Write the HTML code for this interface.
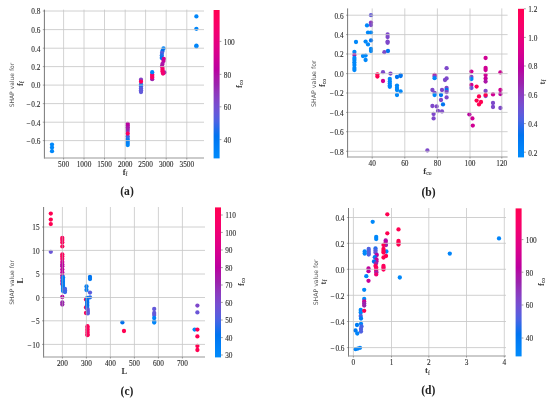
<!DOCTYPE html>
<html><head><meta charset="utf-8"><title>SHAP dependence plots</title>
<style>html,body{margin:0;padding:0;background:#fff;}svg{display:block;}</style></head>
<body>
<svg width="550" height="402" viewBox="0 0 550 402">
<defs><linearGradient id="rb" x1="0" y1="0" x2="0" y2="1"><stop offset="0%" stop-color="#ff0051"/><stop offset="5%" stop-color="#fe005c"/><stop offset="10%" stop-color="#f90067"/><stop offset="15%" stop-color="#f20072"/><stop offset="20%" stop-color="#e9007c"/><stop offset="25%" stop-color="#e00086"/><stop offset="30%" stop-color="#d5008f"/><stop offset="35%" stop-color="#c80098"/><stop offset="40%" stop-color="#bb00a0"/><stop offset="45%" stop-color="#ab15a7"/><stop offset="50%" stop-color="#9b23ad"/><stop offset="55%" stop-color="#9135ba"/><stop offset="60%" stop-color="#8443c6"/><stop offset="65%" stop-color="#754fd1"/><stop offset="70%" stop-color="#6359da"/><stop offset="75%" stop-color="#4b63e3"/><stop offset="80%" stop-color="#236cea"/><stop offset="85%" stop-color="#0074f0"/><stop offset="90%" stop-color="#007cf5"/><stop offset="95%" stop-color="#0084f9"/><stop offset="100%" stop-color="#008bfb"/></linearGradient></defs>
<rect width="550" height="402" fill="#fff"/>
<circle cx="52.0" cy="144.6" r="2.15" fill="#0088fa"/>
<circle cx="52.0" cy="147.6" r="2.15" fill="#0088fa"/>
<circle cx="52.0" cy="151.2" r="2.15" fill="#0088fa"/>
<circle cx="127.7" cy="145.0" r="2.15" fill="#0088fa"/>
<circle cx="127.7" cy="143.0" r="2.15" fill="#0085f9"/>
<circle cx="127.7" cy="141.0" r="2.15" fill="#007ff7"/>
<circle cx="127.7" cy="139.0" r="2.15" fill="#0079f3"/>
<circle cx="127.7" cy="136.5" r="2.15" fill="#3769e8"/>
<circle cx="127.7" cy="131.0" r="2.15" fill="#754fd1"/>
<circle cx="127.7" cy="129.0" r="2.15" fill="#9b23ad"/>
<circle cx="127.7" cy="127.2" r="2.15" fill="#a21eaa"/>
<circle cx="127.7" cy="125.5" r="2.15" fill="#ab15a7"/>
<circle cx="127.7" cy="123.8" r="2.15" fill="#bb00a0"/>
<circle cx="127.7" cy="133.5" r="2.15" fill="#fb0063"/>
<circle cx="141.0" cy="92.0" r="2.15" fill="#6359da"/>
<circle cx="141.0" cy="90.2" r="2.15" fill="#6359da"/>
<circle cx="141.0" cy="88.4" r="2.15" fill="#5a5dde"/>
<circle cx="141.0" cy="86.5" r="2.15" fill="#5a5dde"/>
<circle cx="141.0" cy="84.5" r="2.15" fill="#007cf5"/>
<circle cx="141.0" cy="79.7" r="2.15" fill="#8443c6"/>
<circle cx="141.0" cy="81.7" r="2.15" fill="#fe005c"/>
<circle cx="152.2" cy="79.2" r="2.15" fill="#9b23ad"/>
<circle cx="152.2" cy="77.6" r="2.15" fill="#f20072"/>
<circle cx="152.2" cy="76.0" r="2.15" fill="#f90067"/>
<circle cx="152.2" cy="74.4" r="2.15" fill="#f90067"/>
<circle cx="152.2" cy="72.2" r="2.15" fill="#0084f9"/>
<circle cx="163.5" cy="48.5" r="2.15" fill="#0084f9"/>
<circle cx="162.5" cy="51.0" r="2.15" fill="#006fed"/>
<circle cx="162.0" cy="53.0" r="2.15" fill="#555fe0"/>
<circle cx="161.8" cy="55.5" r="2.15" fill="#236cea"/>
<circle cx="161.8" cy="58.0" r="2.15" fill="#0073ef"/>
<circle cx="163.8" cy="58.8" r="2.15" fill="#d5008f"/>
<circle cx="163.5" cy="61.0" r="2.15" fill="#c80098"/>
<circle cx="162.5" cy="64.0" r="2.15" fill="#ab15a7"/>
<circle cx="162.0" cy="66.2" r="2.15" fill="#ab15a7"/>
<circle cx="164.4" cy="72.5" r="2.15" fill="#9b23ad"/>
<circle cx="162.5" cy="68.0" r="2.15" fill="#f20072"/>
<circle cx="162.5" cy="69.8" r="2.15" fill="#f90067"/>
<circle cx="162.5" cy="71.6" r="2.15" fill="#f90067"/>
<circle cx="163.0" cy="73.6" r="2.15" fill="#f20072"/>
<circle cx="196.4" cy="16.4" r="2.15" fill="#0086fa"/>
<circle cx="196.4" cy="28.8" r="2.15" fill="#0086fa"/>
<circle cx="196.4" cy="45.6" r="2.15" fill="#0086fa"/>
<circle cx="196.4" cy="46.4" r="2.15" fill="#0086fa"/>
<line x1="63.6" y1="9.6" x2="63.6" y2="158" stroke="#b4b4b4" stroke-width="0.7" stroke-opacity="0.85"/>
<line x1="84" y1="9.6" x2="84" y2="158" stroke="#b4b4b4" stroke-width="0.7" stroke-opacity="0.85"/>
<line x1="104.5" y1="9.6" x2="104.5" y2="158" stroke="#b4b4b4" stroke-width="0.7" stroke-opacity="0.85"/>
<line x1="125.2" y1="9.6" x2="125.2" y2="158" stroke="#b4b4b4" stroke-width="0.7" stroke-opacity="0.85"/>
<line x1="145.6" y1="9.6" x2="145.6" y2="158" stroke="#b4b4b4" stroke-width="0.7" stroke-opacity="0.85"/>
<line x1="166.2" y1="9.6" x2="166.2" y2="158" stroke="#b4b4b4" stroke-width="0.7" stroke-opacity="0.85"/>
<line x1="186.8" y1="9.6" x2="186.8" y2="158" stroke="#b4b4b4" stroke-width="0.7" stroke-opacity="0.85"/>
<line x1="44.4" y1="11" x2="204" y2="11" stroke="#c8c8c8" stroke-width="1.0" stroke-opacity="0.85"/>
<line x1="44.4" y1="29.6" x2="204" y2="29.6" stroke="#c8c8c8" stroke-width="1.0" stroke-opacity="0.85"/>
<line x1="44.4" y1="48.2" x2="204" y2="48.2" stroke="#c8c8c8" stroke-width="1.0" stroke-opacity="0.85"/>
<line x1="44.4" y1="66.6" x2="204" y2="66.6" stroke="#c8c8c8" stroke-width="1.0" stroke-opacity="0.85"/>
<line x1="44.4" y1="85.1" x2="204" y2="85.1" stroke="#c8c8c8" stroke-width="1.0" stroke-opacity="0.85"/>
<line x1="44.4" y1="103.6" x2="204" y2="103.6" stroke="#c8c8c8" stroke-width="1.0" stroke-opacity="0.85"/>
<line x1="44.4" y1="122.2" x2="204" y2="122.2" stroke="#c8c8c8" stroke-width="1.0" stroke-opacity="0.85"/>
<line x1="44.4" y1="140.6" x2="204" y2="140.6" stroke="#c8c8c8" stroke-width="1.0" stroke-opacity="0.85"/>
<line x1="44.4" y1="9.6" x2="44.4" y2="158.5" stroke="#555" stroke-width="0.8"/>
<line x1="44.0" y1="158" x2="204" y2="158" stroke="#979797" stroke-width="1.0"/>
<line x1="63.6" y1="158" x2="63.6" y2="159.6" stroke="#555" stroke-width="0.5"/>
<text x="63.6" y="167.2" font-size="7.3" text-anchor="middle" font-family='"Liberation Serif", "DejaVu Serif", serif' fill="#2c2c2c" stroke="#2c2c2c" stroke-width="0.1">500</text>
<line x1="84" y1="158" x2="84" y2="159.6" stroke="#555" stroke-width="0.5"/>
<text x="84" y="167.2" font-size="7.3" text-anchor="middle" font-family='"Liberation Serif", "DejaVu Serif", serif' fill="#2c2c2c" stroke="#2c2c2c" stroke-width="0.1">1000</text>
<line x1="104.5" y1="158" x2="104.5" y2="159.6" stroke="#555" stroke-width="0.5"/>
<text x="104.5" y="167.2" font-size="7.3" text-anchor="middle" font-family='"Liberation Serif", "DejaVu Serif", serif' fill="#2c2c2c" stroke="#2c2c2c" stroke-width="0.1">1500</text>
<line x1="125.2" y1="158" x2="125.2" y2="159.6" stroke="#555" stroke-width="0.5"/>
<text x="125.2" y="167.2" font-size="7.3" text-anchor="middle" font-family='"Liberation Serif", "DejaVu Serif", serif' fill="#2c2c2c" stroke="#2c2c2c" stroke-width="0.1">2000</text>
<line x1="145.6" y1="158" x2="145.6" y2="159.6" stroke="#555" stroke-width="0.5"/>
<text x="145.6" y="167.2" font-size="7.3" text-anchor="middle" font-family='"Liberation Serif", "DejaVu Serif", serif' fill="#2c2c2c" stroke="#2c2c2c" stroke-width="0.1">2500</text>
<line x1="166.2" y1="158" x2="166.2" y2="159.6" stroke="#555" stroke-width="0.5"/>
<text x="166.2" y="167.2" font-size="7.3" text-anchor="middle" font-family='"Liberation Serif", "DejaVu Serif", serif' fill="#2c2c2c" stroke="#2c2c2c" stroke-width="0.1">3000</text>
<line x1="186.8" y1="158" x2="186.8" y2="159.6" stroke="#555" stroke-width="0.5"/>
<text x="186.8" y="167.2" font-size="7.3" text-anchor="middle" font-family='"Liberation Serif", "DejaVu Serif", serif' fill="#2c2c2c" stroke="#2c2c2c" stroke-width="0.1">3500</text>
<line x1="42.8" y1="11" x2="44.4" y2="11" stroke="#555" stroke-width="0.5"/>
<text x="40.4" y="14.3" font-size="7.3" text-anchor="end" font-family='"Liberation Serif", "DejaVu Serif", serif' fill="#2c2c2c" stroke="#2c2c2c" stroke-width="0.1">0.8</text>
<line x1="42.8" y1="29.6" x2="44.4" y2="29.6" stroke="#555" stroke-width="0.5"/>
<text x="40.4" y="32.9" font-size="7.3" text-anchor="end" font-family='"Liberation Serif", "DejaVu Serif", serif' fill="#2c2c2c" stroke="#2c2c2c" stroke-width="0.1">0.6</text>
<line x1="42.8" y1="48.2" x2="44.4" y2="48.2" stroke="#555" stroke-width="0.5"/>
<text x="40.4" y="51.5" font-size="7.3" text-anchor="end" font-family='"Liberation Serif", "DejaVu Serif", serif' fill="#2c2c2c" stroke="#2c2c2c" stroke-width="0.1">0.4</text>
<line x1="42.8" y1="66.6" x2="44.4" y2="66.6" stroke="#555" stroke-width="0.5"/>
<text x="40.4" y="69.89999999999999" font-size="7.3" text-anchor="end" font-family='"Liberation Serif", "DejaVu Serif", serif' fill="#2c2c2c" stroke="#2c2c2c" stroke-width="0.1">0.2</text>
<line x1="42.8" y1="85.1" x2="44.4" y2="85.1" stroke="#555" stroke-width="0.5"/>
<text x="40.4" y="88.39999999999999" font-size="7.3" text-anchor="end" font-family='"Liberation Serif", "DejaVu Serif", serif' fill="#2c2c2c" stroke="#2c2c2c" stroke-width="0.1">0.0</text>
<line x1="42.8" y1="103.6" x2="44.4" y2="103.6" stroke="#555" stroke-width="0.5"/>
<text x="40.4" y="106.89999999999999" font-size="7.3" text-anchor="end" font-family='"Liberation Serif", "DejaVu Serif", serif' fill="#2c2c2c" stroke="#2c2c2c" stroke-width="0.1"><tspan letter-spacing="0.9">−</tspan>0.2</text>
<line x1="42.8" y1="122.2" x2="44.4" y2="122.2" stroke="#555" stroke-width="0.5"/>
<text x="40.4" y="125.5" font-size="7.3" text-anchor="end" font-family='"Liberation Serif", "DejaVu Serif", serif' fill="#2c2c2c" stroke="#2c2c2c" stroke-width="0.1"><tspan letter-spacing="0.9">−</tspan>0.4</text>
<line x1="42.8" y1="140.6" x2="44.4" y2="140.6" stroke="#555" stroke-width="0.5"/>
<text x="40.4" y="143.9" font-size="7.3" text-anchor="end" font-family='"Liberation Serif", "DejaVu Serif", serif' fill="#2c2c2c" stroke="#2c2c2c" stroke-width="0.1"><tspan letter-spacing="0.9">−</tspan>0.6</text>
<text x="125" y="174.5" font-size="8.6" text-anchor="middle" font-family='"Liberation Serif", "DejaVu Serif", serif' fill="#333"><tspan font-weight="bold">f</tspan><tspan font-size="5.6" dy="1.1" stroke="#333" stroke-width="0.12">f</tspan></text>
<text transform="translate(14.4,85.1) rotate(-90)" font-size="6.0" text-anchor="middle" font-family='"DejaVu Sans", "Liberation Sans", sans-serif' fill="#555">SHAP value for</text>
<text transform="translate(22.6,83.6) rotate(-90)" font-size="8.6" text-anchor="middle" font-family='"Liberation Serif", "DejaVu Serif", serif' fill="#333"><tspan font-weight="bold">f</tspan><tspan font-size="5.6" dy="1.1" stroke="#333" stroke-width="0.12">f</tspan></text>
<rect x="213.6" y="10.0" width="6.0" height="148.4" fill="url(#rb)"/>
<line x1="219.6" y1="41.4" x2="221.4" y2="41.4" stroke="#444" stroke-width="0.5"/>
<text x="223.79999999999998" y="44.699999999999996" font-size="7.3" font-family='"Liberation Serif", "DejaVu Serif", serif' fill="#2c2c2c" stroke="#2c2c2c" stroke-width="0.1">100</text>
<line x1="219.6" y1="74.4" x2="221.4" y2="74.4" stroke="#444" stroke-width="0.5"/>
<text x="223.79999999999998" y="77.7" font-size="7.3" font-family='"Liberation Serif", "DejaVu Serif", serif' fill="#2c2c2c" stroke="#2c2c2c" stroke-width="0.1">80</text>
<line x1="219.6" y1="106.8" x2="221.4" y2="106.8" stroke="#444" stroke-width="0.5"/>
<text x="223.79999999999998" y="110.1" font-size="7.3" font-family='"Liberation Serif", "DejaVu Serif", serif' fill="#2c2c2c" stroke="#2c2c2c" stroke-width="0.1">60</text>
<line x1="219.6" y1="139.6" x2="221.4" y2="139.6" stroke="#444" stroke-width="0.5"/>
<text x="223.79999999999998" y="142.9" font-size="7.3" font-family='"Liberation Serif", "DejaVu Serif", serif' fill="#2c2c2c" stroke="#2c2c2c" stroke-width="0.1">40</text>
<text transform="translate(242,84) rotate(-90)" font-size="8.6" text-anchor="middle" font-family='"Liberation Serif", "DejaVu Serif", serif' fill="#333"><tspan font-weight="bold">f</tspan><tspan font-size="5.6" dy="1.1" stroke="#333" stroke-width="0.12">co</tspan></text>
<text x="127" y="195.4" font-size="11.6" font-weight="bold" text-anchor="middle" font-family='"Liberation Serif", "DejaVu Serif", serif' fill="#222">(a)</text>
<circle cx="371.0" cy="15.2" r="2.15" fill="#6359da"/>
<circle cx="371.0" cy="22.6" r="2.15" fill="#8c3bbf"/>
<circle cx="371.0" cy="25.0" r="2.15" fill="#7e48ca"/>
<circle cx="367.0" cy="25.4" r="2.15" fill="#0088fa"/>
<circle cx="368.0" cy="32.6" r="2.15" fill="#0088fa"/>
<circle cx="371.0" cy="32.6" r="2.15" fill="#0088fa"/>
<circle cx="356.0" cy="42.0" r="2.15" fill="#0088fa"/>
<circle cx="365.6" cy="41.6" r="2.15" fill="#0088fa"/>
<circle cx="371.0" cy="40.4" r="2.15" fill="#0074f0"/>
<circle cx="368.0" cy="44.4" r="2.15" fill="#0088fa"/>
<circle cx="371.0" cy="49.0" r="2.15" fill="#0088fa"/>
<circle cx="371.0" cy="51.0" r="2.15" fill="#0088fa"/>
<circle cx="354.4" cy="52.0" r="2.15" fill="#0088fa"/>
<circle cx="354.4" cy="55.0" r="2.15" fill="#9b23ad"/>
<circle cx="363.0" cy="56.0" r="2.15" fill="#0088fa"/>
<circle cx="365.6" cy="55.6" r="2.15" fill="#0088fa"/>
<circle cx="365.6" cy="60.0" r="2.15" fill="#0088fa"/>
<circle cx="354.4" cy="58.0" r="2.15" fill="#0088fa"/>
<circle cx="354.4" cy="60.0" r="2.15" fill="#0088fa"/>
<circle cx="354.4" cy="62.4" r="2.15" fill="#0088fa"/>
<circle cx="354.4" cy="65.0" r="2.15" fill="#0088fa"/>
<circle cx="354.4" cy="68.0" r="2.15" fill="#0088fa"/>
<circle cx="354.4" cy="70.0" r="2.15" fill="#0088fa"/>
<circle cx="387.6" cy="34.4" r="2.15" fill="#7e48ca"/>
<circle cx="387.6" cy="37.0" r="2.15" fill="#7e48ca"/>
<circle cx="387.6" cy="41.6" r="2.15" fill="#7e48ca"/>
<circle cx="387.6" cy="42.8" r="2.15" fill="#7e48ca"/>
<circle cx="384.4" cy="52.2" r="2.15" fill="#7e48ca"/>
<circle cx="388.0" cy="51.0" r="2.15" fill="#0074f0"/>
<circle cx="377.4" cy="74.4" r="2.15" fill="#ff0051"/>
<circle cx="377.4" cy="76.6" r="2.15" fill="#ff0051"/>
<circle cx="383.0" cy="72.2" r="2.15" fill="#7e48ca"/>
<circle cx="390.5" cy="73.6" r="2.15" fill="#7e48ca"/>
<circle cx="383.0" cy="81.0" r="2.15" fill="#d00093"/>
<circle cx="389.8" cy="79.0" r="2.15" fill="#0088fa"/>
<circle cx="389.8" cy="81.4" r="2.15" fill="#0088fa"/>
<circle cx="389.8" cy="83.6" r="2.15" fill="#0088fa"/>
<circle cx="389.8" cy="85.6" r="2.15" fill="#0088fa"/>
<circle cx="389.8" cy="86.8" r="2.15" fill="#0088fa"/>
<circle cx="397.0" cy="77.0" r="2.15" fill="#0074f0"/>
<circle cx="400.6" cy="75.0" r="2.15" fill="#0074f0"/>
<circle cx="400.6" cy="76.0" r="2.15" fill="#0074f0"/>
<circle cx="397.0" cy="85.6" r="2.15" fill="#0088fa"/>
<circle cx="397.0" cy="88.0" r="2.15" fill="#0088fa"/>
<circle cx="397.0" cy="90.0" r="2.15" fill="#0088fa"/>
<circle cx="400.6" cy="91.4" r="2.15" fill="#0088fa"/>
<circle cx="397.0" cy="95.0" r="2.15" fill="#0088fa"/>
<circle cx="434.6" cy="75.0" r="2.15" fill="#d00093"/>
<circle cx="434.6" cy="76.5" r="2.15" fill="#7e48ca"/>
<circle cx="434.6" cy="78.2" r="2.15" fill="#0088fa"/>
<circle cx="446.6" cy="68.2" r="2.15" fill="#7e48ca"/>
<circle cx="446.6" cy="78.4" r="2.15" fill="#7e48ca"/>
<circle cx="445.0" cy="80.0" r="2.15" fill="#7e48ca"/>
<circle cx="432.4" cy="90.0" r="2.15" fill="#7e48ca"/>
<circle cx="434.6" cy="93.0" r="2.15" fill="#7e48ca"/>
<circle cx="434.6" cy="95.0" r="2.15" fill="#0088fa"/>
<circle cx="442.0" cy="90.0" r="2.15" fill="#7e48ca"/>
<circle cx="446.6" cy="88.0" r="2.15" fill="#7e48ca"/>
<circle cx="446.6" cy="90.0" r="2.15" fill="#0074f0"/>
<circle cx="446.6" cy="92.0" r="2.15" fill="#7e48ca"/>
<circle cx="441.0" cy="95.0" r="2.15" fill="#0074f0"/>
<circle cx="446.6" cy="97.4" r="2.15" fill="#7e48ca"/>
<circle cx="441.0" cy="100.0" r="2.15" fill="#7e48ca"/>
<circle cx="443.0" cy="104.4" r="2.15" fill="#0074f0"/>
<circle cx="432.4" cy="106.0" r="2.15" fill="#7e48ca"/>
<circle cx="436.6" cy="106.4" r="2.15" fill="#7e48ca"/>
<circle cx="438.0" cy="111.0" r="2.15" fill="#7e48ca"/>
<circle cx="442.0" cy="111.4" r="2.15" fill="#7e48ca"/>
<circle cx="433.6" cy="114.0" r="2.15" fill="#7e48ca"/>
<circle cx="433.6" cy="118.4" r="2.15" fill="#7e48ca"/>
<circle cx="427.4" cy="150.4" r="2.15" fill="#7e48ca"/>
<circle cx="471.4" cy="71.6" r="2.15" fill="#d00093"/>
<circle cx="471.4" cy="77.0" r="2.15" fill="#7e48ca"/>
<circle cx="471.4" cy="79.0" r="2.15" fill="#0088fa"/>
<circle cx="471.4" cy="85.0" r="2.15" fill="#d00093"/>
<circle cx="471.4" cy="88.0" r="2.15" fill="#6359da"/>
<circle cx="476.6" cy="86.6" r="2.15" fill="#ff0051"/>
<circle cx="485.6" cy="58.0" r="2.15" fill="#d00093"/>
<circle cx="485.6" cy="68.0" r="2.15" fill="#d00093"/>
<circle cx="485.6" cy="70.0" r="2.15" fill="#d00093"/>
<circle cx="485.6" cy="75.0" r="2.15" fill="#d00093"/>
<circle cx="485.6" cy="78.4" r="2.15" fill="#c3009b"/>
<circle cx="485.6" cy="81.6" r="2.15" fill="#ab15a7"/>
<circle cx="485.6" cy="91.0" r="2.15" fill="#7e48ca"/>
<circle cx="485.6" cy="96.0" r="2.15" fill="#7e48ca"/>
<circle cx="485.6" cy="95.0" r="2.15" fill="#ff0051"/>
<circle cx="479.0" cy="96.4" r="2.15" fill="#ff0051"/>
<circle cx="476.6" cy="100.6" r="2.15" fill="#ff0051"/>
<circle cx="481.0" cy="102.0" r="2.15" fill="#ff0051"/>
<circle cx="479.0" cy="104.4" r="2.15" fill="#ff0051"/>
<circle cx="469.4" cy="114.4" r="2.15" fill="#bb00a0"/>
<circle cx="472.4" cy="118.4" r="2.15" fill="#d00093"/>
<circle cx="472.8" cy="125.6" r="2.15" fill="#d00093"/>
<circle cx="500.4" cy="72.4" r="2.15" fill="#d00093"/>
<circle cx="500.4" cy="90.0" r="2.15" fill="#d00093"/>
<circle cx="500.4" cy="94.0" r="2.15" fill="#bb00a0"/>
<circle cx="500.4" cy="108.0" r="2.15" fill="#7e48ca"/>
<circle cx="493.0" cy="94.4" r="2.15" fill="#d00093"/>
<circle cx="493.0" cy="103.0" r="2.15" fill="#7e48ca"/>
<circle cx="493.0" cy="107.0" r="2.15" fill="#7e48ca"/>
<line x1="372.2" y1="8.4" x2="372.2" y2="157" stroke="#b4b4b4" stroke-width="0.7" stroke-opacity="0.85"/>
<line x1="404.8" y1="8.4" x2="404.8" y2="157" stroke="#b4b4b4" stroke-width="0.7" stroke-opacity="0.85"/>
<line x1="437.4" y1="8.4" x2="437.4" y2="157" stroke="#b4b4b4" stroke-width="0.7" stroke-opacity="0.85"/>
<line x1="470" y1="8.4" x2="470" y2="157" stroke="#b4b4b4" stroke-width="0.7" stroke-opacity="0.85"/>
<line x1="501.8" y1="8.4" x2="501.8" y2="157" stroke="#b4b4b4" stroke-width="0.7" stroke-opacity="0.85"/>
<line x1="347.6" y1="15.2" x2="507.6" y2="15.2" stroke="#c8c8c8" stroke-width="1.0" stroke-opacity="0.85"/>
<line x1="347.6" y1="34.6" x2="507.6" y2="34.6" stroke="#c8c8c8" stroke-width="1.0" stroke-opacity="0.85"/>
<line x1="347.6" y1="54" x2="507.6" y2="54" stroke="#c8c8c8" stroke-width="1.0" stroke-opacity="0.85"/>
<line x1="347.6" y1="73.6" x2="507.6" y2="73.6" stroke="#c8c8c8" stroke-width="1.0" stroke-opacity="0.85"/>
<line x1="347.6" y1="93" x2="507.6" y2="93" stroke="#c8c8c8" stroke-width="1.0" stroke-opacity="0.85"/>
<line x1="347.6" y1="112.4" x2="507.6" y2="112.4" stroke="#c8c8c8" stroke-width="1.0" stroke-opacity="0.85"/>
<line x1="347.6" y1="131.7" x2="507.6" y2="131.7" stroke="#c8c8c8" stroke-width="1.0" stroke-opacity="0.85"/>
<line x1="347.6" y1="151.3" x2="507.6" y2="151.3" stroke="#c8c8c8" stroke-width="1.0" stroke-opacity="0.85"/>
<line x1="347.6" y1="8.4" x2="347.6" y2="157.5" stroke="#555" stroke-width="0.8"/>
<line x1="347.20000000000005" y1="157" x2="507.6" y2="157" stroke="#979797" stroke-width="1.0"/>
<line x1="372.2" y1="157" x2="372.2" y2="158.6" stroke="#555" stroke-width="0.5"/>
<text x="372.2" y="166.2" font-size="7.3" text-anchor="middle" font-family='"Liberation Serif", "DejaVu Serif", serif' fill="#2c2c2c" stroke="#2c2c2c" stroke-width="0.1">40</text>
<line x1="404.8" y1="157" x2="404.8" y2="158.6" stroke="#555" stroke-width="0.5"/>
<text x="404.8" y="166.2" font-size="7.3" text-anchor="middle" font-family='"Liberation Serif", "DejaVu Serif", serif' fill="#2c2c2c" stroke="#2c2c2c" stroke-width="0.1">60</text>
<line x1="437.4" y1="157" x2="437.4" y2="158.6" stroke="#555" stroke-width="0.5"/>
<text x="437.4" y="166.2" font-size="7.3" text-anchor="middle" font-family='"Liberation Serif", "DejaVu Serif", serif' fill="#2c2c2c" stroke="#2c2c2c" stroke-width="0.1">80</text>
<line x1="470" y1="157" x2="470" y2="158.6" stroke="#555" stroke-width="0.5"/>
<text x="470" y="166.2" font-size="7.3" text-anchor="middle" font-family='"Liberation Serif", "DejaVu Serif", serif' fill="#2c2c2c" stroke="#2c2c2c" stroke-width="0.1">100</text>
<line x1="501.8" y1="157" x2="501.8" y2="158.6" stroke="#555" stroke-width="0.5"/>
<text x="501.8" y="166.2" font-size="7.3" text-anchor="middle" font-family='"Liberation Serif", "DejaVu Serif", serif' fill="#2c2c2c" stroke="#2c2c2c" stroke-width="0.1">120</text>
<line x1="346.0" y1="15.2" x2="347.6" y2="15.2" stroke="#555" stroke-width="0.5"/>
<text x="343.6" y="18.5" font-size="7.3" text-anchor="end" font-family='"Liberation Serif", "DejaVu Serif", serif' fill="#2c2c2c" stroke="#2c2c2c" stroke-width="0.1">0.6</text>
<line x1="346.0" y1="34.6" x2="347.6" y2="34.6" stroke="#555" stroke-width="0.5"/>
<text x="343.6" y="37.9" font-size="7.3" text-anchor="end" font-family='"Liberation Serif", "DejaVu Serif", serif' fill="#2c2c2c" stroke="#2c2c2c" stroke-width="0.1">0.4</text>
<line x1="346.0" y1="54" x2="347.6" y2="54" stroke="#555" stroke-width="0.5"/>
<text x="343.6" y="57.3" font-size="7.3" text-anchor="end" font-family='"Liberation Serif", "DejaVu Serif", serif' fill="#2c2c2c" stroke="#2c2c2c" stroke-width="0.1">0.2</text>
<line x1="346.0" y1="73.6" x2="347.6" y2="73.6" stroke="#555" stroke-width="0.5"/>
<text x="343.6" y="76.89999999999999" font-size="7.3" text-anchor="end" font-family='"Liberation Serif", "DejaVu Serif", serif' fill="#2c2c2c" stroke="#2c2c2c" stroke-width="0.1">0.0</text>
<line x1="346.0" y1="93" x2="347.6" y2="93" stroke="#555" stroke-width="0.5"/>
<text x="343.6" y="96.3" font-size="7.3" text-anchor="end" font-family='"Liberation Serif", "DejaVu Serif", serif' fill="#2c2c2c" stroke="#2c2c2c" stroke-width="0.1"><tspan letter-spacing="0.9">−</tspan>0.2</text>
<line x1="346.0" y1="112.4" x2="347.6" y2="112.4" stroke="#555" stroke-width="0.5"/>
<text x="343.6" y="115.7" font-size="7.3" text-anchor="end" font-family='"Liberation Serif", "DejaVu Serif", serif' fill="#2c2c2c" stroke="#2c2c2c" stroke-width="0.1"><tspan letter-spacing="0.9">−</tspan>0.4</text>
<line x1="346.0" y1="131.7" x2="347.6" y2="131.7" stroke="#555" stroke-width="0.5"/>
<text x="343.6" y="135.0" font-size="7.3" text-anchor="end" font-family='"Liberation Serif", "DejaVu Serif", serif' fill="#2c2c2c" stroke="#2c2c2c" stroke-width="0.1"><tspan letter-spacing="0.9">−</tspan>0.6</text>
<line x1="346.0" y1="151.3" x2="347.6" y2="151.3" stroke="#555" stroke-width="0.5"/>
<text x="343.6" y="154.60000000000002" font-size="7.3" text-anchor="end" font-family='"Liberation Serif", "DejaVu Serif", serif' fill="#2c2c2c" stroke="#2c2c2c" stroke-width="0.1"><tspan letter-spacing="0.9">−</tspan>0.8</text>
<text x="427.4" y="174.2" font-size="8.6" text-anchor="middle" font-family='"Liberation Serif", "DejaVu Serif", serif' fill="#333"><tspan font-weight="bold">f</tspan><tspan font-size="5.6" dy="1.1" stroke="#333" stroke-width="0.12">co</tspan></text>
<text transform="translate(316.4,83.7) rotate(-90)" font-size="6.3" text-anchor="middle" font-family='"DejaVu Sans", "Liberation Sans", sans-serif' fill="#555">SHAP value for</text>
<text transform="translate(325.2,83) rotate(-90)" font-size="8.6" text-anchor="middle" font-family='"Liberation Serif", "DejaVu Serif", serif' fill="#333"><tspan font-weight="bold">f</tspan><tspan font-size="5.6" dy="1.1" stroke="#333" stroke-width="0.12">co</tspan></text>
<rect x="518" y="8.8" width="6" height="148.6" fill="url(#rb)"/>
<line x1="524" y1="8.8" x2="525.8" y2="8.8" stroke="#444" stroke-width="0.5"/>
<text x="528.2" y="12.100000000000001" font-size="7.3" font-family='"Liberation Serif", "DejaVu Serif", serif' fill="#2c2c2c" stroke="#2c2c2c" stroke-width="0.1">1.2</text>
<line x1="524" y1="37.4" x2="525.8" y2="37.4" stroke="#444" stroke-width="0.5"/>
<text x="528.2" y="40.699999999999996" font-size="7.3" font-family='"Liberation Serif", "DejaVu Serif", serif' fill="#2c2c2c" stroke="#2c2c2c" stroke-width="0.1">1.0</text>
<line x1="524" y1="66" x2="525.8" y2="66" stroke="#444" stroke-width="0.5"/>
<text x="528.2" y="69.3" font-size="7.3" font-family='"Liberation Serif", "DejaVu Serif", serif' fill="#2c2c2c" stroke="#2c2c2c" stroke-width="0.1">0.8</text>
<line x1="524" y1="95" x2="525.8" y2="95" stroke="#444" stroke-width="0.5"/>
<text x="528.2" y="98.3" font-size="7.3" font-family='"Liberation Serif", "DejaVu Serif", serif' fill="#2c2c2c" stroke="#2c2c2c" stroke-width="0.1">0.6</text>
<line x1="524" y1="123.6" x2="525.8" y2="123.6" stroke="#444" stroke-width="0.5"/>
<text x="528.2" y="126.89999999999999" font-size="7.3" font-family='"Liberation Serif", "DejaVu Serif", serif' fill="#2c2c2c" stroke="#2c2c2c" stroke-width="0.1">0.4</text>
<line x1="524" y1="152.2" x2="525.8" y2="152.2" stroke="#444" stroke-width="0.5"/>
<text x="528.2" y="155.5" font-size="7.3" font-family='"Liberation Serif", "DejaVu Serif", serif' fill="#2c2c2c" stroke="#2c2c2c" stroke-width="0.1">0.2</text>
<text transform="translate(545,82) rotate(-90)" font-size="8.6" text-anchor="middle" font-family='"Liberation Serif", "DejaVu Serif", serif' fill="#333"><tspan font-weight="bold">t</tspan><tspan font-size="5.6" dy="1.1" stroke="#333" stroke-width="0.12">f</tspan></text>
<text x="428.5" y="195.6" font-size="11.6" font-weight="bold" text-anchor="middle" font-family='"Liberation Serif", "DejaVu Serif", serif' fill="#222">(b)</text>
<circle cx="50.8" cy="213.6" r="2.15" fill="#ff0051"/>
<circle cx="50.8" cy="219.6" r="2.15" fill="#ff0051"/>
<circle cx="50.8" cy="224.1" r="2.15" fill="#ff0051"/>
<circle cx="50.8" cy="251.8" r="2.15" fill="#6a55d7"/>
<circle cx="62.3" cy="304.6" r="2.15" fill="#9b23ad"/>
<circle cx="62.3" cy="302.4" r="2.15" fill="#9b23ad"/>
<circle cx="62.3" cy="297.0" r="2.15" fill="#bb00a0"/>
<circle cx="62.3" cy="238.0" r="2.15" fill="#fe005c"/>
<circle cx="62.3" cy="240.0" r="2.15" fill="#fe005c"/>
<circle cx="62.3" cy="242.4" r="2.15" fill="#fe005c"/>
<circle cx="62.3" cy="246.4" r="2.15" fill="#fe005c"/>
<circle cx="62.3" cy="254.4" r="2.15" fill="#fe005c"/>
<circle cx="62.3" cy="256.4" r="2.15" fill="#fe005c"/>
<circle cx="62.3" cy="259.0" r="2.15" fill="#f90067"/>
<circle cx="62.3" cy="262.0" r="2.15" fill="#d5008f"/>
<circle cx="62.3" cy="264.4" r="2.15" fill="#c0009c"/>
<circle cx="62.3" cy="266.2" r="2.15" fill="#bb00a0"/>
<circle cx="62.3" cy="269.4" r="2.15" fill="#c0009c"/>
<circle cx="62.3" cy="272.5" r="2.15" fill="#c80098"/>
<circle cx="62.3" cy="275.5" r="2.15" fill="#c80098"/>
<circle cx="62.3" cy="278.0" r="2.15" fill="#c80098"/>
<circle cx="62.3" cy="281.0" r="2.15" fill="#c80098"/>
<circle cx="62.3" cy="284.0" r="2.15" fill="#c80098"/>
<circle cx="63.0" cy="291.0" r="2.15" fill="#007ff7"/>
<circle cx="63.0" cy="289.0" r="2.15" fill="#007cf5"/>
<circle cx="63.0" cy="287.0" r="2.15" fill="#007ff7"/>
<circle cx="63.0" cy="285.0" r="2.15" fill="#0079f3"/>
<circle cx="63.0" cy="283.0" r="2.15" fill="#007ff7"/>
<circle cx="63.0" cy="281.0" r="2.15" fill="#0079f3"/>
<circle cx="63.0" cy="279.0" r="2.15" fill="#007ff7"/>
<circle cx="63.0" cy="277.2" r="2.15" fill="#007cf5"/>
<circle cx="65.0" cy="289.0" r="2.15" fill="#3769e8"/>
<circle cx="65.0" cy="290.5" r="2.15" fill="#4b63e3"/>
<circle cx="65.0" cy="292.0" r="2.15" fill="#3769e8"/>
<circle cx="86.0" cy="299.5" r="2.15" fill="#ff0058"/>
<circle cx="86.0" cy="307.5" r="2.15" fill="#ff0058"/>
<circle cx="86.0" cy="313.0" r="2.15" fill="#ff0058"/>
<circle cx="87.2" cy="298.0" r="2.15" fill="#007cf5"/>
<circle cx="87.2" cy="299.5" r="2.15" fill="#0074f0"/>
<circle cx="87.2" cy="301.0" r="2.15" fill="#0074f0"/>
<circle cx="87.2" cy="302.5" r="2.15" fill="#006fed"/>
<circle cx="87.2" cy="304.0" r="2.15" fill="#0074f0"/>
<circle cx="87.2" cy="305.5" r="2.15" fill="#006fed"/>
<circle cx="87.2" cy="307.0" r="2.15" fill="#0074f0"/>
<circle cx="87.2" cy="308.4" r="2.15" fill="#236cea"/>
<circle cx="87.8" cy="310.0" r="2.15" fill="#6359da"/>
<circle cx="87.8" cy="311.8" r="2.15" fill="#6359da"/>
<circle cx="87.8" cy="313.4" r="2.15" fill="#5a5dde"/>
<circle cx="87.5" cy="326.2" r="2.15" fill="#fe005c"/>
<circle cx="87.5" cy="327.8" r="2.15" fill="#fe005c"/>
<circle cx="87.5" cy="329.4" r="2.15" fill="#fe005c"/>
<circle cx="87.5" cy="331.0" r="2.15" fill="#fe005c"/>
<circle cx="87.5" cy="332.6" r="2.15" fill="#fe005c"/>
<circle cx="87.5" cy="334.2" r="2.15" fill="#fe005c"/>
<circle cx="87.5" cy="335.2" r="2.15" fill="#fe005c"/>
<circle cx="86.5" cy="286.5" r="2.15" fill="#007ff7"/>
<circle cx="86.5" cy="290.0" r="2.15" fill="#007cf5"/>
<circle cx="90.0" cy="277.0" r="2.15" fill="#0074f0"/>
<circle cx="90.0" cy="279.0" r="2.15" fill="#0079f3"/>
<circle cx="90.0" cy="292.6" r="2.15" fill="#5a5dde"/>
<circle cx="90.0" cy="297.3" r="2.15" fill="#236cea"/>
<circle cx="122.4" cy="322.4" r="2.15" fill="#006fed"/>
<circle cx="124.0" cy="331.0" r="2.15" fill="#ff0051"/>
<circle cx="154.2" cy="309.0" r="2.15" fill="#6359da"/>
<circle cx="154.2" cy="313.0" r="2.15" fill="#6359da"/>
<circle cx="154.2" cy="315.0" r="2.15" fill="#6359da"/>
<circle cx="154.2" cy="318.0" r="2.15" fill="#0084f9"/>
<circle cx="154.2" cy="321.4" r="2.15" fill="#0086fa"/>
<circle cx="154.2" cy="322.6" r="2.15" fill="#0086fa"/>
<circle cx="197.4" cy="305.6" r="2.15" fill="#7e48ca"/>
<circle cx="197.4" cy="312.4" r="2.15" fill="#6a55d7"/>
<circle cx="194.6" cy="329.6" r="2.15" fill="#008bfb"/>
<circle cx="197.4" cy="329.6" r="2.15" fill="#ff0051"/>
<circle cx="197.4" cy="336.4" r="2.15" fill="#ff0051"/>
<circle cx="197.4" cy="346.0" r="2.15" fill="#ff0051"/>
<circle cx="197.4" cy="350.0" r="2.15" fill="#ff0051"/>
<line x1="62.4" y1="207" x2="62.4" y2="357" stroke="#b4b4b4" stroke-width="0.7" stroke-opacity="0.85"/>
<line x1="86.4" y1="207" x2="86.4" y2="357" stroke="#b4b4b4" stroke-width="0.7" stroke-opacity="0.85"/>
<line x1="110.4" y1="207" x2="110.4" y2="357" stroke="#b4b4b4" stroke-width="0.7" stroke-opacity="0.85"/>
<line x1="134.4" y1="207" x2="134.4" y2="357" stroke="#b4b4b4" stroke-width="0.7" stroke-opacity="0.85"/>
<line x1="158.4" y1="207" x2="158.4" y2="357" stroke="#b4b4b4" stroke-width="0.7" stroke-opacity="0.85"/>
<line x1="182.4" y1="207" x2="182.4" y2="357" stroke="#b4b4b4" stroke-width="0.7" stroke-opacity="0.85"/>
<line x1="43.6" y1="227" x2="205" y2="227" stroke="#c8c8c8" stroke-width="1.0" stroke-opacity="0.85"/>
<line x1="43.6" y1="250.4" x2="205" y2="250.4" stroke="#c8c8c8" stroke-width="1.0" stroke-opacity="0.85"/>
<line x1="43.6" y1="274" x2="205" y2="274" stroke="#c8c8c8" stroke-width="1.0" stroke-opacity="0.85"/>
<line x1="43.6" y1="297.5" x2="205" y2="297.5" stroke="#c8c8c8" stroke-width="1.0" stroke-opacity="0.85"/>
<line x1="43.6" y1="320.8" x2="205" y2="320.8" stroke="#c8c8c8" stroke-width="1.0" stroke-opacity="0.85"/>
<line x1="43.6" y1="344.4" x2="205" y2="344.4" stroke="#c8c8c8" stroke-width="1.0" stroke-opacity="0.85"/>
<line x1="43.6" y1="207" x2="43.6" y2="357.5" stroke="#555" stroke-width="0.8"/>
<line x1="43.2" y1="357" x2="205" y2="357" stroke="#979797" stroke-width="1.0"/>
<line x1="62.4" y1="357" x2="62.4" y2="358.6" stroke="#555" stroke-width="0.5"/>
<text x="62.4" y="366.2" font-size="7.3" text-anchor="middle" font-family='"Liberation Serif", "DejaVu Serif", serif' fill="#2c2c2c" stroke="#2c2c2c" stroke-width="0.1">200</text>
<line x1="86.4" y1="357" x2="86.4" y2="358.6" stroke="#555" stroke-width="0.5"/>
<text x="86.4" y="366.2" font-size="7.3" text-anchor="middle" font-family='"Liberation Serif", "DejaVu Serif", serif' fill="#2c2c2c" stroke="#2c2c2c" stroke-width="0.1">300</text>
<line x1="110.4" y1="357" x2="110.4" y2="358.6" stroke="#555" stroke-width="0.5"/>
<text x="110.4" y="366.2" font-size="7.3" text-anchor="middle" font-family='"Liberation Serif", "DejaVu Serif", serif' fill="#2c2c2c" stroke="#2c2c2c" stroke-width="0.1">400</text>
<line x1="134.4" y1="357" x2="134.4" y2="358.6" stroke="#555" stroke-width="0.5"/>
<text x="134.4" y="366.2" font-size="7.3" text-anchor="middle" font-family='"Liberation Serif", "DejaVu Serif", serif' fill="#2c2c2c" stroke="#2c2c2c" stroke-width="0.1">500</text>
<line x1="158.4" y1="357" x2="158.4" y2="358.6" stroke="#555" stroke-width="0.5"/>
<text x="158.4" y="366.2" font-size="7.3" text-anchor="middle" font-family='"Liberation Serif", "DejaVu Serif", serif' fill="#2c2c2c" stroke="#2c2c2c" stroke-width="0.1">600</text>
<line x1="182.4" y1="357" x2="182.4" y2="358.6" stroke="#555" stroke-width="0.5"/>
<text x="182.4" y="366.2" font-size="7.3" text-anchor="middle" font-family='"Liberation Serif", "DejaVu Serif", serif' fill="#2c2c2c" stroke="#2c2c2c" stroke-width="0.1">700</text>
<line x1="42.0" y1="227" x2="43.6" y2="227" stroke="#555" stroke-width="0.5"/>
<text x="39.6" y="230.3" font-size="7.3" text-anchor="end" font-family='"Liberation Serif", "DejaVu Serif", serif' fill="#2c2c2c" stroke="#2c2c2c" stroke-width="0.1">15</text>
<line x1="42.0" y1="250.4" x2="43.6" y2="250.4" stroke="#555" stroke-width="0.5"/>
<text x="39.6" y="253.70000000000002" font-size="7.3" text-anchor="end" font-family='"Liberation Serif", "DejaVu Serif", serif' fill="#2c2c2c" stroke="#2c2c2c" stroke-width="0.1">10</text>
<line x1="42.0" y1="274" x2="43.6" y2="274" stroke="#555" stroke-width="0.5"/>
<text x="39.6" y="277.3" font-size="7.3" text-anchor="end" font-family='"Liberation Serif", "DejaVu Serif", serif' fill="#2c2c2c" stroke="#2c2c2c" stroke-width="0.1">5</text>
<line x1="42.0" y1="297.5" x2="43.6" y2="297.5" stroke="#555" stroke-width="0.5"/>
<text x="39.6" y="300.8" font-size="7.3" text-anchor="end" font-family='"Liberation Serif", "DejaVu Serif", serif' fill="#2c2c2c" stroke="#2c2c2c" stroke-width="0.1">0</text>
<line x1="42.0" y1="320.8" x2="43.6" y2="320.8" stroke="#555" stroke-width="0.5"/>
<text x="39.6" y="324.1" font-size="7.3" text-anchor="end" font-family='"Liberation Serif", "DejaVu Serif", serif' fill="#2c2c2c" stroke="#2c2c2c" stroke-width="0.1"><tspan letter-spacing="0.9">−</tspan>5</text>
<line x1="42.0" y1="344.4" x2="43.6" y2="344.4" stroke="#555" stroke-width="0.5"/>
<text x="39.6" y="347.7" font-size="7.3" text-anchor="end" font-family='"Liberation Serif", "DejaVu Serif", serif' fill="#2c2c2c" stroke="#2c2c2c" stroke-width="0.1"><tspan letter-spacing="0.9">−</tspan>10</text>
<text x="124.4" y="373.8" font-size="8.6" text-anchor="middle" font-family='"Liberation Serif", "DejaVu Serif", serif' fill="#333"><tspan font-weight="bold">L</tspan></text>
<text transform="translate(14.4,282.4) rotate(-90)" font-size="6.05" text-anchor="middle" font-family='"DejaVu Sans", "Liberation Sans", sans-serif' fill="#555">SHAP value for</text>
<text transform="translate(22.6,280.6) rotate(-90)" font-size="8.6" text-anchor="middle" font-family='"Liberation Serif", "DejaVu Serif", serif' fill="#333"><tspan font-weight="bold">L</tspan></text>
<rect x="215" y="207.4" width="6" height="150" fill="url(#rb)"/>
<line x1="221" y1="215" x2="222.8" y2="215" stroke="#444" stroke-width="0.5"/>
<text x="225.2" y="218.3" font-size="7.3" font-family='"Liberation Serif", "DejaVu Serif", serif' fill="#2c2c2c" stroke="#2c2c2c" stroke-width="0.1">110</text>
<line x1="221" y1="232.4" x2="222.8" y2="232.4" stroke="#444" stroke-width="0.5"/>
<text x="225.2" y="235.70000000000002" font-size="7.3" font-family='"Liberation Serif", "DejaVu Serif", serif' fill="#2c2c2c" stroke="#2c2c2c" stroke-width="0.1">100</text>
<line x1="221" y1="250" x2="222.8" y2="250" stroke="#444" stroke-width="0.5"/>
<text x="225.2" y="253.3" font-size="7.3" font-family='"Liberation Serif", "DejaVu Serif", serif' fill="#2c2c2c" stroke="#2c2c2c" stroke-width="0.1">90</text>
<line x1="221" y1="267.6" x2="222.8" y2="267.6" stroke="#444" stroke-width="0.5"/>
<text x="225.2" y="270.90000000000003" font-size="7.3" font-family='"Liberation Serif", "DejaVu Serif", serif' fill="#2c2c2c" stroke="#2c2c2c" stroke-width="0.1">80</text>
<line x1="221" y1="285" x2="222.8" y2="285" stroke="#444" stroke-width="0.5"/>
<text x="225.2" y="288.3" font-size="7.3" font-family='"Liberation Serif", "DejaVu Serif", serif' fill="#2c2c2c" stroke="#2c2c2c" stroke-width="0.1">70</text>
<line x1="221" y1="302.4" x2="222.8" y2="302.4" stroke="#444" stroke-width="0.5"/>
<text x="225.2" y="305.7" font-size="7.3" font-family='"Liberation Serif", "DejaVu Serif", serif' fill="#2c2c2c" stroke="#2c2c2c" stroke-width="0.1">60</text>
<line x1="221" y1="320" x2="222.8" y2="320" stroke="#444" stroke-width="0.5"/>
<text x="225.2" y="323.3" font-size="7.3" font-family='"Liberation Serif", "DejaVu Serif", serif' fill="#2c2c2c" stroke="#2c2c2c" stroke-width="0.1">50</text>
<line x1="221" y1="337.6" x2="222.8" y2="337.6" stroke="#444" stroke-width="0.5"/>
<text x="225.2" y="340.90000000000003" font-size="7.3" font-family='"Liberation Serif", "DejaVu Serif", serif' fill="#2c2c2c" stroke="#2c2c2c" stroke-width="0.1">40</text>
<line x1="221" y1="355" x2="222.8" y2="355" stroke="#444" stroke-width="0.5"/>
<text x="225.2" y="358.3" font-size="7.3" font-family='"Liberation Serif", "DejaVu Serif", serif' fill="#2c2c2c" stroke="#2c2c2c" stroke-width="0.1">30</text>
<text transform="translate(244,282) rotate(-90)" font-size="8.6" text-anchor="middle" font-family='"Liberation Serif", "DejaVu Serif", serif' fill="#333"><tspan font-weight="bold">f</tspan><tspan font-size="5.6" dy="1.1" stroke="#333" stroke-width="0.12">co</tspan></text>
<text x="127" y="394.6" font-size="11.6" font-weight="bold" text-anchor="middle" font-family='"Liberation Serif", "DejaVu Serif", serif' fill="#222">(c)</text>
<circle cx="387.3" cy="214.3" r="2.15" fill="#ff0051"/>
<circle cx="372.7" cy="221.8" r="2.15" fill="#0088fa"/>
<circle cx="387.3" cy="233.3" r="2.15" fill="#ff0051"/>
<circle cx="398.5" cy="229.4" r="2.15" fill="#ff0051"/>
<circle cx="376.2" cy="237.0" r="2.15" fill="#0088fa"/>
<circle cx="376.2" cy="239.0" r="2.15" fill="#0088fa"/>
<circle cx="385.7" cy="240.5" r="2.15" fill="#ab15a7"/>
<circle cx="385.7" cy="242.0" r="2.15" fill="#bb00a0"/>
<circle cx="386.0" cy="245.0" r="2.15" fill="#9b23ad"/>
<circle cx="383.5" cy="245.0" r="2.15" fill="#ff0051"/>
<circle cx="398.5" cy="241.0" r="2.15" fill="#ff0051"/>
<circle cx="398.5" cy="242.6" r="2.15" fill="#ff0051"/>
<circle cx="398.5" cy="244.5" r="2.15" fill="#ff0051"/>
<circle cx="386.4" cy="251.5" r="2.15" fill="#0088fa"/>
<circle cx="383.5" cy="249.0" r="2.15" fill="#ff0051"/>
<circle cx="383.5" cy="251.0" r="2.15" fill="#ff0051"/>
<circle cx="383.5" cy="252.6" r="2.15" fill="#ff0051"/>
<circle cx="386.0" cy="256.0" r="2.15" fill="#ff0051"/>
<circle cx="383.5" cy="257.5" r="2.15" fill="#ff0051"/>
<circle cx="368.7" cy="249.0" r="2.15" fill="#5061e1"/>
<circle cx="368.7" cy="251.0" r="2.15" fill="#5061e1"/>
<circle cx="368.7" cy="253.0" r="2.15" fill="#5a5dde"/>
<circle cx="368.7" cy="254.5" r="2.15" fill="#5061e1"/>
<circle cx="364.7" cy="251.5" r="2.15" fill="#0088fa"/>
<circle cx="364.7" cy="253.5" r="2.15" fill="#0088fa"/>
<circle cx="375.5" cy="248.5" r="2.15" fill="#236cea"/>
<circle cx="375.5" cy="250.5" r="2.15" fill="#4b63e3"/>
<circle cx="375.5" cy="252.5" r="2.15" fill="#6359da"/>
<circle cx="376.8" cy="255.0" r="2.15" fill="#bb00a0"/>
<circle cx="374.8" cy="257.2" r="2.15" fill="#007cf5"/>
<circle cx="376.5" cy="259.5" r="2.15" fill="#c80098"/>
<circle cx="376.5" cy="261.5" r="2.15" fill="#c80098"/>
<circle cx="374.0" cy="261.5" r="2.15" fill="#0074f0"/>
<circle cx="376.0" cy="263.5" r="2.15" fill="#9b23ad"/>
<circle cx="375.5" cy="266.0" r="2.15" fill="#fe005c"/>
<circle cx="376.2" cy="267.5" r="2.15" fill="#fe005c"/>
<circle cx="376.2" cy="269.5" r="2.15" fill="#fe005c"/>
<circle cx="376.2" cy="271.0" r="2.15" fill="#f90067"/>
<circle cx="376.4" cy="272.4" r="2.15" fill="#9b23ad"/>
<circle cx="376.2" cy="274.4" r="2.15" fill="#f20072"/>
<circle cx="383.5" cy="266.0" r="2.15" fill="#fe005c"/>
<circle cx="383.5" cy="267.6" r="2.15" fill="#fe005c"/>
<circle cx="383.5" cy="269.5" r="2.15" fill="#fe005c"/>
<circle cx="368.5" cy="268.4" r="2.15" fill="#c0009c"/>
<circle cx="368.5" cy="271.2" r="2.15" fill="#c0009c"/>
<circle cx="366.3" cy="276.2" r="2.15" fill="#0088fa"/>
<circle cx="368.5" cy="280.8" r="2.15" fill="#c80098"/>
<circle cx="364.2" cy="289.8" r="2.15" fill="#0088fa"/>
<circle cx="399.8" cy="277.5" r="2.15" fill="#0088fa"/>
<circle cx="364.2" cy="299.0" r="2.15" fill="#0088fa"/>
<circle cx="364.2" cy="301.5" r="2.15" fill="#d5008f"/>
<circle cx="364.2" cy="303.5" r="2.15" fill="#9b23ad"/>
<circle cx="364.2" cy="305.5" r="2.15" fill="#9b23ad"/>
<circle cx="360.7" cy="310.0" r="2.15" fill="#0088fa"/>
<circle cx="360.7" cy="312.5" r="2.15" fill="#0088fa"/>
<circle cx="364.2" cy="310.8" r="2.15" fill="#ff0051"/>
<circle cx="360.7" cy="316.0" r="2.15" fill="#4b63e3"/>
<circle cx="361.0" cy="318.5" r="2.15" fill="#007cf5"/>
<circle cx="361.0" cy="323.8" r="2.15" fill="#0084f9"/>
<circle cx="357.0" cy="325.0" r="2.15" fill="#007cf5"/>
<circle cx="361.5" cy="326.5" r="2.15" fill="#4565e5"/>
<circle cx="361.0" cy="329.0" r="2.15" fill="#5061e1"/>
<circle cx="361.0" cy="331.5" r="2.15" fill="#5061e1"/>
<circle cx="355.5" cy="330.5" r="2.15" fill="#007cf5"/>
<circle cx="357.3" cy="333.5" r="2.15" fill="#0084f9"/>
<circle cx="360.0" cy="347.8" r="2.15" fill="#0084f9"/>
<circle cx="355.6" cy="349.2" r="2.15" fill="#0084f9"/>
<circle cx="357.8" cy="348.6" r="2.15" fill="#0084f9"/>
<circle cx="449.8" cy="253.6" r="2.15" fill="#0084f9"/>
<circle cx="499.0" cy="238.4" r="2.15" fill="#0084f9"/>
<line x1="353.4" y1="208" x2="353.4" y2="356" stroke="#b4b4b4" stroke-width="0.7" stroke-opacity="0.85"/>
<line x1="391.5" y1="208" x2="391.5" y2="356" stroke="#b4b4b4" stroke-width="0.7" stroke-opacity="0.85"/>
<line x1="428.8" y1="208" x2="428.8" y2="356" stroke="#b4b4b4" stroke-width="0.7" stroke-opacity="0.85"/>
<line x1="466.5" y1="208" x2="466.5" y2="356" stroke="#b4b4b4" stroke-width="0.7" stroke-opacity="0.85"/>
<line x1="504.3" y1="208" x2="504.3" y2="356" stroke="#b4b4b4" stroke-width="0.7" stroke-opacity="0.85"/>
<line x1="348.5" y1="217.5" x2="506" y2="217.5" stroke="#c8c8c8" stroke-width="1.0" stroke-opacity="0.85"/>
<line x1="348.5" y1="243.3" x2="506" y2="243.3" stroke="#c8c8c8" stroke-width="1.0" stroke-opacity="0.85"/>
<line x1="348.5" y1="269.3" x2="506" y2="269.3" stroke="#c8c8c8" stroke-width="1.0" stroke-opacity="0.85"/>
<line x1="348.5" y1="295.3" x2="506" y2="295.3" stroke="#c8c8c8" stroke-width="1.0" stroke-opacity="0.85"/>
<line x1="348.5" y1="321.5" x2="506" y2="321.5" stroke="#c8c8c8" stroke-width="1.0" stroke-opacity="0.85"/>
<line x1="348.5" y1="347.6" x2="506" y2="347.6" stroke="#c8c8c8" stroke-width="1.0" stroke-opacity="0.85"/>
<line x1="348.5" y1="208" x2="348.5" y2="356.5" stroke="#555" stroke-width="0.8"/>
<line x1="348.1" y1="356" x2="506" y2="356" stroke="#979797" stroke-width="1.0"/>
<line x1="353.4" y1="356" x2="353.4" y2="357.6" stroke="#555" stroke-width="0.5"/>
<text x="353.4" y="365.2" font-size="7.3" text-anchor="middle" font-family='"Liberation Serif", "DejaVu Serif", serif' fill="#2c2c2c" stroke="#2c2c2c" stroke-width="0.1">0</text>
<line x1="391.5" y1="356" x2="391.5" y2="357.6" stroke="#555" stroke-width="0.5"/>
<text x="391.5" y="365.2" font-size="7.3" text-anchor="middle" font-family='"Liberation Serif", "DejaVu Serif", serif' fill="#2c2c2c" stroke="#2c2c2c" stroke-width="0.1">1</text>
<line x1="428.8" y1="356" x2="428.8" y2="357.6" stroke="#555" stroke-width="0.5"/>
<text x="428.8" y="365.2" font-size="7.3" text-anchor="middle" font-family='"Liberation Serif", "DejaVu Serif", serif' fill="#2c2c2c" stroke="#2c2c2c" stroke-width="0.1">2</text>
<line x1="466.5" y1="356" x2="466.5" y2="357.6" stroke="#555" stroke-width="0.5"/>
<text x="466.5" y="365.2" font-size="7.3" text-anchor="middle" font-family='"Liberation Serif", "DejaVu Serif", serif' fill="#2c2c2c" stroke="#2c2c2c" stroke-width="0.1">3</text>
<line x1="504.3" y1="356" x2="504.3" y2="357.6" stroke="#555" stroke-width="0.5"/>
<text x="504.3" y="365.2" font-size="7.3" text-anchor="middle" font-family='"Liberation Serif", "DejaVu Serif", serif' fill="#2c2c2c" stroke="#2c2c2c" stroke-width="0.1">4</text>
<line x1="346.9" y1="217.5" x2="348.5" y2="217.5" stroke="#555" stroke-width="0.5"/>
<text x="344.5" y="220.8" font-size="7.3" text-anchor="end" font-family='"Liberation Serif", "DejaVu Serif", serif' fill="#2c2c2c" stroke="#2c2c2c" stroke-width="0.1">0.4</text>
<line x1="346.9" y1="243.3" x2="348.5" y2="243.3" stroke="#555" stroke-width="0.5"/>
<text x="344.5" y="246.60000000000002" font-size="7.3" text-anchor="end" font-family='"Liberation Serif", "DejaVu Serif", serif' fill="#2c2c2c" stroke="#2c2c2c" stroke-width="0.1">0.2</text>
<line x1="346.9" y1="269.3" x2="348.5" y2="269.3" stroke="#555" stroke-width="0.5"/>
<text x="344.5" y="272.6" font-size="7.3" text-anchor="end" font-family='"Liberation Serif", "DejaVu Serif", serif' fill="#2c2c2c" stroke="#2c2c2c" stroke-width="0.1">0.0</text>
<line x1="346.9" y1="295.3" x2="348.5" y2="295.3" stroke="#555" stroke-width="0.5"/>
<text x="344.5" y="298.6" font-size="7.3" text-anchor="end" font-family='"Liberation Serif", "DejaVu Serif", serif' fill="#2c2c2c" stroke="#2c2c2c" stroke-width="0.1"><tspan letter-spacing="0.9">−</tspan>0.2</text>
<line x1="346.9" y1="321.5" x2="348.5" y2="321.5" stroke="#555" stroke-width="0.5"/>
<text x="344.5" y="324.8" font-size="7.3" text-anchor="end" font-family='"Liberation Serif", "DejaVu Serif", serif' fill="#2c2c2c" stroke="#2c2c2c" stroke-width="0.1"><tspan letter-spacing="0.9">−</tspan>0.4</text>
<line x1="346.9" y1="347.6" x2="348.5" y2="347.6" stroke="#555" stroke-width="0.5"/>
<text x="344.5" y="350.90000000000003" font-size="7.3" text-anchor="end" font-family='"Liberation Serif", "DejaVu Serif", serif' fill="#2c2c2c" stroke="#2c2c2c" stroke-width="0.1"><tspan letter-spacing="0.9">−</tspan>0.6</text>
<text x="427.4" y="373.4" font-size="8.6" text-anchor="middle" font-family='"Liberation Serif", "DejaVu Serif", serif' fill="#333"><tspan font-weight="bold">t</tspan><tspan font-size="5.6" dy="1.1" stroke="#333" stroke-width="0.12">f</tspan></text>
<text transform="translate(317.5,282.4) rotate(-90)" font-size="6.2" text-anchor="middle" font-family='"DejaVu Sans", "Liberation Sans", sans-serif' fill="#555">SHAP value for</text>
<text transform="translate(325.8,282) rotate(-90)" font-size="8.6" text-anchor="middle" font-family='"Liberation Serif", "DejaVu Serif", serif' fill="#333"><tspan font-weight="bold">t</tspan><tspan font-size="5.6" dy="1.1" stroke="#333" stroke-width="0.12">f</tspan></text>
<rect x="515.6" y="208.4" width="6.0" height="148" fill="url(#rb)"/>
<line x1="521.6" y1="239.6" x2="523.4" y2="239.6" stroke="#444" stroke-width="0.5"/>
<text x="525.8000000000001" y="242.9" font-size="7.3" font-family='"Liberation Serif", "DejaVu Serif", serif' fill="#2c2c2c" stroke="#2c2c2c" stroke-width="0.1">100</text>
<line x1="521.6" y1="272.2" x2="523.4" y2="272.2" stroke="#444" stroke-width="0.5"/>
<text x="525.8000000000001" y="275.5" font-size="7.3" font-family='"Liberation Serif", "DejaVu Serif", serif' fill="#2c2c2c" stroke="#2c2c2c" stroke-width="0.1">80</text>
<line x1="521.6" y1="305" x2="523.4" y2="305" stroke="#444" stroke-width="0.5"/>
<text x="525.8000000000001" y="308.3" font-size="7.3" font-family='"Liberation Serif", "DejaVu Serif", serif' fill="#2c2c2c" stroke="#2c2c2c" stroke-width="0.1">60</text>
<line x1="521.6" y1="338" x2="523.4" y2="338" stroke="#444" stroke-width="0.5"/>
<text x="525.8000000000001" y="341.3" font-size="7.3" font-family='"Liberation Serif", "DejaVu Serif", serif' fill="#2c2c2c" stroke="#2c2c2c" stroke-width="0.1">40</text>
<text transform="translate(544,282) rotate(-90)" font-size="8.6" text-anchor="middle" font-family='"Liberation Serif", "DejaVu Serif", serif' fill="#333"><tspan font-weight="bold">f</tspan><tspan font-size="5.6" dy="1.1" stroke="#333" stroke-width="0.12">co</tspan></text>
<text x="428.3" y="394.4" font-size="11.6" font-weight="bold" text-anchor="middle" font-family='"Liberation Serif", "DejaVu Serif", serif' fill="#222">(d)</text>
</svg>
</body></html>
